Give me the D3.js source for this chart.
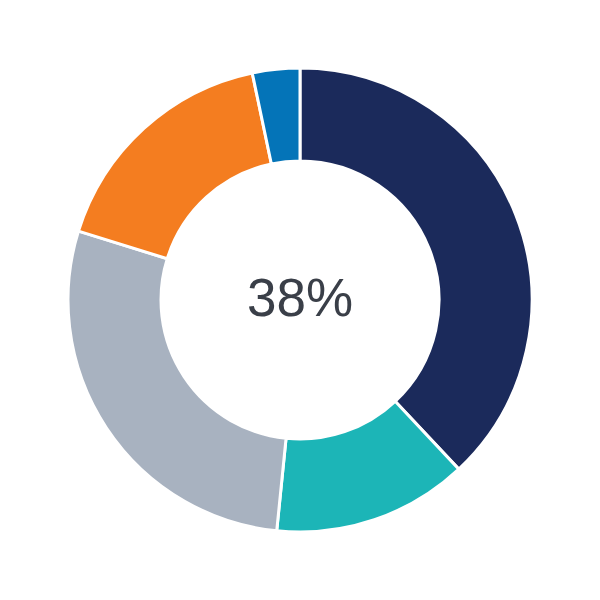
<!DOCTYPE html>
<html>
<head>
<meta charset="utf-8">
<script src="https://cdn.jsdelivr.net/npm/d3@7"></script>
<style>
  body { margin: 0; background: #fff; }
  svg { display: block; }
</style>
</head>
<body>
<svg id="chart" width="600" height="600"></svg>
<script>
// slice shares, clockwise from 12 o'clock
var categories = ["A", "B", "C", "D", "E"];
var values = [38, 13.6, 28.2, 16.9, 3.3];
var colors = ["#1b2a5b", "#1cb5b7", "#a8b2c0", "#f47d20", "#0474b8"];
var centerLabel = "38%";

var width = 600, height = 600;
var outerRadius = 232, innerRadius = 139;

var svg = d3.select("#chart");
var g = svg.append("g").attr("transform", `translate(${width / 2}, ${height / 2})`);

var data = categories.map((c, i) => ({ name: c, value: values[i], color: colors[i] }));

var pie = d3.pie().value((d) => d.value).sort(null);
var arc = d3.arc().innerRadius(innerRadius).outerRadius(outerRadius);

g.selectAll("path")
    .data(pie(data))
    .join("path")
    .attr("d", arc)
    .attr("fill", (d) => d.data.color)
    .attr("stroke", "#fff")
    .attr("stroke-width", 3)
    .attr("stroke-linejoin", "miter");

g.append("text")
    .attr("text-anchor", "middle")
    .attr("y", 16)
    .attr("font-family", "Liberation Sans, Arial, sans-serif")
    .attr("font-size", 53)
    .attr("fill", "#3a3f48")
    .text(centerLabel);
</script>
</body>
</html>
